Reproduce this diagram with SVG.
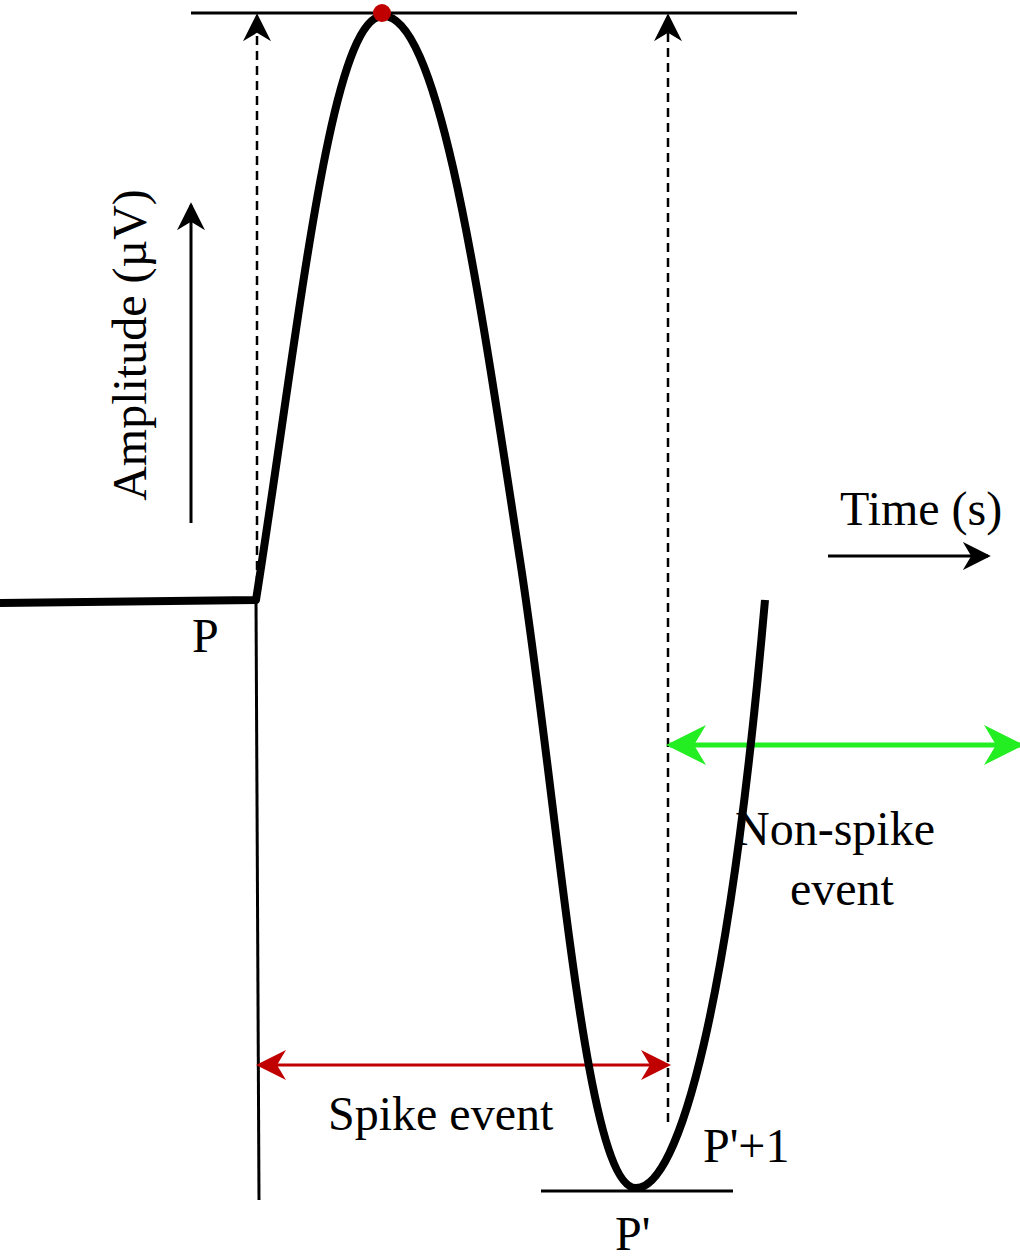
<svg xmlns="http://www.w3.org/2000/svg" width="1020" height="1258" viewBox="0 0 1020 1258">
<defs>
<style>
text{font-family:"Liberation Serif",serif;fill:#000;font-size:48px}
.thin{stroke:#000;stroke-width:3;fill:none}
.dash{stroke:#000;stroke-width:2.5;stroke-dasharray:9,6;fill:none}
</style>
<marker id="ak" viewBox="0 0 10 10" refX="9" refY="5" markerWidth="28" markerHeight="28" markerUnits="userSpaceOnUse" orient="auto-start-reverse"><path d="M0,0 L10,5 L0,10 L3,5z" fill="#000"/></marker>
<marker id="ar" viewBox="0 0 10 10" refX="9" refY="5" markerWidth="30" markerHeight="30" markerUnits="userSpaceOnUse" orient="auto-start-reverse"><path d="M0,0 L10,5 L0,10 L3,5z" fill="#c00000"/></marker>
<marker id="ag" viewBox="0 0 10 10" refX="9" refY="5" markerWidth="40" markerHeight="40" markerUnits="userSpaceOnUse" orient="auto-start-reverse"><path d="M0,0 L10,5 L0,10 L3,5z" fill="#22ee22"/></marker>
</defs>
<g id="connectors">
<line class="thin" x1="191" y1="13" x2="797" y2="13"/>
<line class="thin" x1="541" y1="1191" x2="733" y2="1191"/>
<line class="thin" x1="256" y1="600" x2="259" y2="1200"/>
<line class="dash" x1="257" y1="600" x2="257" y2="16" marker-end="url(#ak)"/>
<line class="dash" x1="668" y1="1122" x2="668" y2="16" marker-end="url(#ak)"/>
<line class="thin" x1="191" y1="523" x2="191" y2="205" marker-end="url(#ak)"/>
<line class="thin" x1="828" y1="556" x2="988" y2="556" marker-end="url(#ak)"/>
<line x1="259" y1="1065" x2="668" y2="1065" stroke="#c00000" stroke-width="3" marker-start="url(#ar)" marker-end="url(#ar)"/>
<line x1="670" y1="745" x2="1020" y2="745" stroke="#22ee22" stroke-width="5" marker-start="url(#ag)" marker-end="url(#ag)"/>
</g>
<g id="signal">
<path d="M0,603 L256,600 C300,320 330,20 382,16 C440,12 480,300 520,560 C560,820 585,1188 636,1188 C680,1188 730,1000 765,600" fill="none" stroke="#000" stroke-width="8" stroke-linejoin="round"/>
<circle cx="382" cy="13" r="9" fill="#c00000"/>
</g>
<g id="labels">
<text transform="translate(146,345) rotate(-90)" text-anchor="middle">Amplitude (µV)</text>
<text x="840" y="525">Time (s)</text>
<text x="192" y="652">P</text>
<text x="735" y="845">Non-spike</text>
<text x="790" y="905">event</text>
<text x="328" y="1130">Spike event</text>
<text x="703" y="1162">P'+1</text>
<text x="615" y="1250">P'</text>
</g>
</svg>
